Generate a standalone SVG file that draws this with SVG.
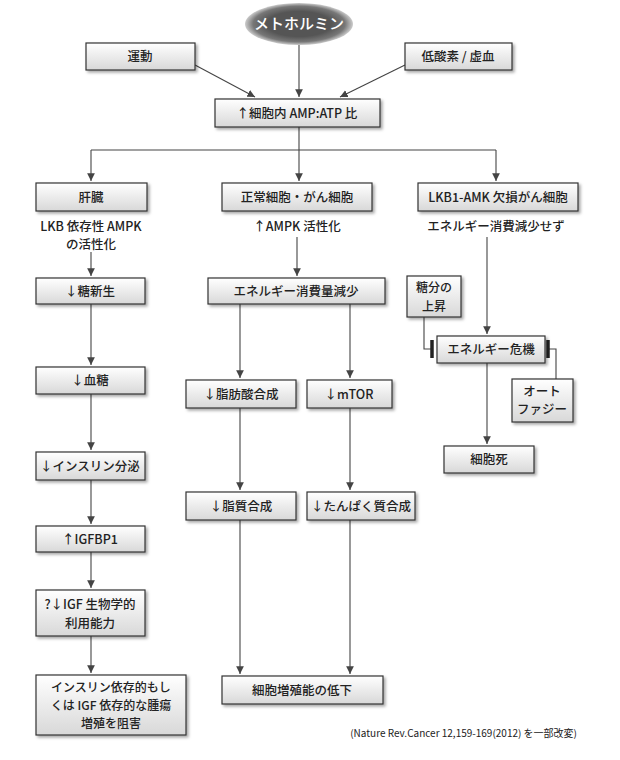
<svg xmlns="http://www.w3.org/2000/svg" width="620" height="760" viewBox="0 0 620 760">
<defs>
<linearGradient id="g" x1="0" y1="0" x2="0" y2="1"><stop offset="0" stop-color="#ffffff"/><stop offset="1" stop-color="#d8d8d8"/></linearGradient>
<radialGradient id="e"><stop offset="0.6" stop-color="#555"/><stop offset="0.85" stop-color="#777"/><stop offset="1" stop-color="#ccc"/></radialGradient>
<filter id="s" x="-10%" y="-10%" width="130%" height="140%"><feDropShadow dx="2" dy="2" stdDeviation="1.5" flood-color="#000" flood-opacity="0.35"/></filter>
<marker id="a" viewBox="0 0 10 10" refX="10" refY="5" markerWidth="7" markerHeight="7" orient="auto"><path d="M0,0 L10,5 L0,10 z" fill="#444"/></marker>
</defs>
<style>
.b{fill:url(#g);stroke:#333;stroke-width:1.2;filter:url(#s)}
.t{font-family:"Noto Sans CJK JP","Noto Sans",sans-serif;font-size:12.5px;font-weight:500;fill:#222;text-anchor:middle}
.m{font-size:12px}
.c{fill:none;stroke:#444;stroke-width:1.1}
.ar{marker-end:url(#a)}
.bar{stroke:#222;stroke-width:3.5}
</style>
<g id="connectors">
<path class="c ar" d="M299,44 V97"/>
<path class="c ar" d="M195,65 L255,97"/>
<path class="c ar" d="M405,65 L340,97"/>
<path class="c" d="M299,127 V150 M91,150 H496"/>
<path class="c ar" d="M91,150 V181"/>
<path class="c ar" d="M299,150 V181"/>
<path class="c ar" d="M496,150 V181"/>
<path class="c ar" d="M91,252 V276"/>
<path class="c ar" d="M91,304 V365"/>
<path class="c ar" d="M91,394 V450"/>
<path class="c ar" d="M91,480 V524"/>
<path class="c ar" d="M91,552 V588"/>
<path class="c ar" d="M91,636 V673"/>
<path class="c ar" d="M297,237 V276"/>
<path class="c ar" d="M240,304 V378"/>
<path class="c ar" d="M350,304 V378"/>
<path class="c ar" d="M240,408 V490"/>
<path class="c ar" d="M350,408 V490"/>
<path class="c ar" d="M240,520 V674"/>
<path class="c ar" d="M350,520 V674"/>
<path class="c ar" d="M487,237 V334"/>
<path class="c ar" d="M487,363 V444"/>
<path class="c" d="M424,317 V349 H432"/>
<line class="bar" x1="432" y1="340" x2="432" y2="358"/>
<path class="c" d="M556,379 V349 H548"/>
<line class="bar" x1="548" y1="340" x2="548" y2="358"/>
</g>
<g id="metformin"><ellipse cx="299" cy="24" rx="54" ry="21" fill="url(#e)"/><text x="299" y="29" class="t" style="fill:#fff;font-size:15px">メトホルミン</text></g>
<g id="undou"><rect class="b" x="86" y="43" width="109" height="27"/><text class="t" x="140" y="61">運動</text></g>
<g id="teisanso"><rect class="b" x="405" y="43" width="107" height="27"/><text class="t" x="458" y="61">低酸素 / 虚血</text></g>
<g id="amp"><rect class="b" x="215" y="99" width="165" height="28"/><text class="t" x="297" y="118">↑細胞内 AMP:ATP 比</text></g>
<g id="kanzo"><rect class="b" x="36" y="183" width="111" height="28"/><text class="t" x="91" y="202">肝臓</text>
<text class="t" x="91" y="231">LKB 依存性 AMPK</text><text class="t" x="91" y="249">の活性化</text></g>
<g id="seijo"><rect class="b" x="222" y="183" width="150" height="28"/><text class="t" x="297" y="202">正常細胞・がん細胞</text>
<text class="t" x="297" y="231">↑AMPK 活性化</text></g>
<g id="lkb1"><rect class="b" x="418" y="183" width="160" height="28"/><text class="t" x="498" y="202">LKB1-AMK 欠損がん細胞</text>
<text class="t" x="496" y="231">エネルギー消費減少せず</text></g>
<g id="tou"><rect class="b" x="36" y="278" width="109" height="26"/><text class="t" x="90" y="296">↓糖新生</text></g>
<g id="ketto"><rect class="b" x="36" y="367" width="109" height="27"/><text class="t" x="90" y="385">↓血糖</text></g>
<g id="insulin"><rect class="b" x="36" y="452" width="109" height="28"/><text class="t" x="90" y="471">↓インスリン分泌</text></g>
<g id="igfbp1"><rect class="b" x="36" y="526" width="109" height="26"/><text class="t" x="90" y="544">↑IGFBP1</text></g>
<g id="igf"><rect class="b" x="36" y="590" width="109" height="46"/><text class="t" x="90" y="609">?↓IGF 生物学的</text><text class="t" x="90" y="628">利用能力</text></g>
<g id="soshi"><rect class="b" x="36" y="675" width="150" height="60"/><text class="t m" x="111" y="692">インスリン依存的もし</text><text class="t m" x="111" y="710">くは IGF 依存的な腫瘍</text><text class="t m" x="111" y="728">増殖を阻害</text></g>
<g id="energy"><rect class="b" x="208" y="278" width="177" height="26"/><text class="t" x="296" y="296">エネルギー消費量減少</text></g>
<g id="shibousan"><rect class="b" x="186" y="380" width="110" height="28"/><text class="t" x="241" y="399">↓脂肪酸合成</text></g>
<g id="mtor"><rect class="b" x="307" y="380" width="85" height="28"/><text class="t" x="349" y="399">↓mTOR</text></g>
<g id="shishitsu"><rect class="b" x="186" y="492" width="110" height="28"/><text class="t" x="241" y="511">↓脂質合成</text></g>
<g id="tanpaku"><rect class="b" x="307" y="492" width="108" height="28"/><text class="t" x="361" y="511">↓たんぱく質合成</text></g>
<g id="zoushoku"><rect class="b" x="222" y="676" width="161" height="28"/><text class="t" x="302" y="695">細胞増殖能の低下</text></g>
<g id="toubun"><rect class="b" x="407" y="276" width="54" height="41"/><text class="t m" x="434" y="292">糖分の</text><text class="t m" x="434" y="311">上昇</text></g>
<g id="kiki"><rect class="b" x="437" y="336" width="108" height="27"/><text class="t" x="491" y="354">エネルギー危機</text></g>
<g id="autophagy"><rect class="b" x="512" y="379" width="61" height="43"/><text class="t" x="542" y="396">オート</text><text class="t" x="542" y="414">ファジー</text></g>
<g id="saiboshi"><rect class="b" x="444" y="446" width="90" height="27"/><text class="t" x="489" y="464">細胞死</text></g>
<text x="577" y="737" style="font-family:'Noto Sans CJK JP','Noto Sans',sans-serif;font-size:10px;fill:#222;text-anchor:end">(Nature Rev.Cancer 12,159-169(2012) を一部改変)</text>
</svg>
